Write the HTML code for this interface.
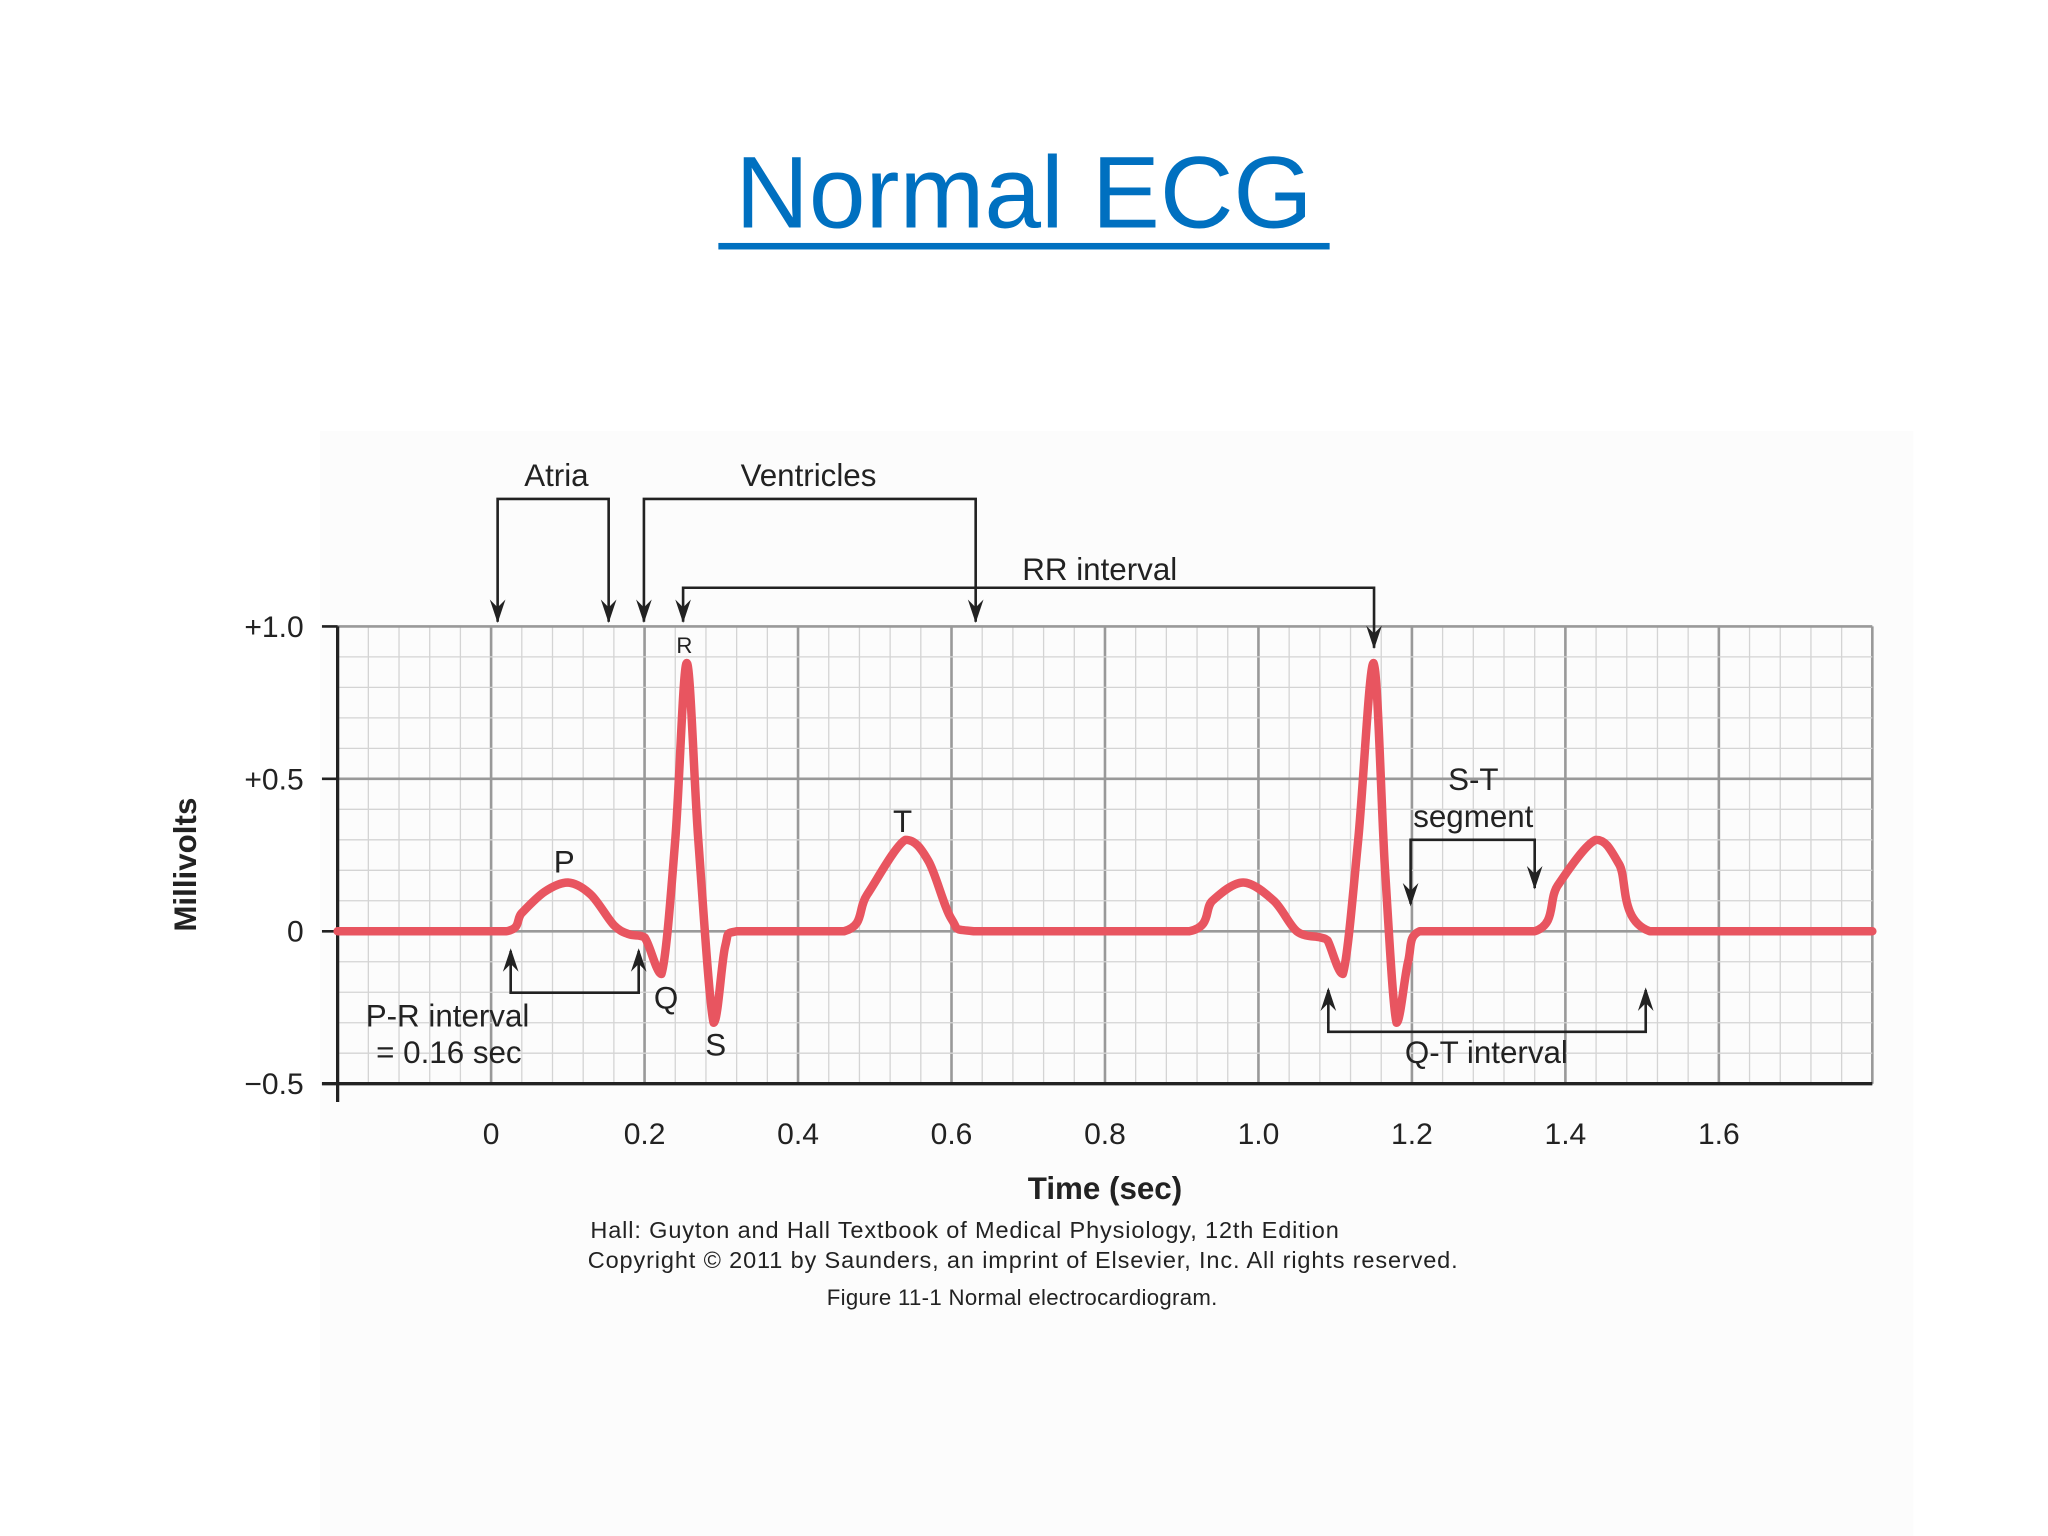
<!DOCTYPE html>
<html><head><meta charset="utf-8"><title>Normal ECG</title>
<style>
html,body{margin:0;padding:0;background:#fff;}
svg{display:block;}
text{font-family:"Liberation Sans",sans-serif;fill:#222;}
</style></head>
<body>
<svg id="chart" width="2048" height="1536" viewBox="0 0 1568 1176" xmlns="http://www.w3.org/2000/svg">
<rect x="0" y="0" width="1568" height="1176" fill="#ffffff"/>
<rect x="245" y="330" width="1220" height="846" fill="#fcfcfc"/>
<text x="784" y="174" text-anchor="middle" font-size="78" style="fill:#0070c0;font-family:'Liberation Sans',sans-serif">Normal ECG</text>
<rect x="550" y="186" width="468" height="5" fill="#0070c0"/>
<g id="grid"></g>
<g id="axes"></g>
<path id="trace" fill="none" stroke="#e85560" stroke-width="6.5" stroke-linejoin="round" stroke-linecap="round"/>
<g id="annot" stroke="#222" stroke-width="2" fill="none"></g>
<g font-size="24">
<text x="426" y="372" text-anchor="middle">Atria</text>
<text x="619" y="372" text-anchor="middle">Ventricles</text>
<text x="842" y="444" text-anchor="middle">RR interval</text>
<text x="432" y="668" text-anchor="middle">P</text>
<text x="691" y="637" text-anchor="middle">T</text>
<text x="524" y="500" text-anchor="middle" font-size="17">R</text>
<text x="510" y="772" text-anchor="middle">Q</text>
<text x="548" y="808" text-anchor="middle">S</text>
<text x="280" y="786">P-R interval</text>
<text x="288" y="814">= 0.16 sec</text>
<text x="1128" y="605" text-anchor="middle">S-T</text>
<text x="1128" y="633" text-anchor="middle">segment</text>
<text x="1138" y="814" text-anchor="middle">Q-T interval</text>
<text x="846" y="918" text-anchor="middle" font-weight="bold">Time (sec)</text>
<text transform="translate(150,662) rotate(-90)" text-anchor="middle" font-weight="bold">Millivolts</text>
</g>
<g font-size="18">
<text x="452" y="948" textLength="573">Hall: Guyton and Hall Textbook of Medical Physiology, 12th Edition</text>
<text x="450" y="971" textLength="666">Copyright © 2011 by Saunders, an imprint of Elsevier, Inc. All rights reserved.</text>
<text x="633" y="999" font-size="17" textLength="299">Figure 11-1 Normal electrocardiogram.</text>
</g>
</svg>
<script>
const xTicks = [0, 0.2, 0.4, 0.6, 0.8, 1.0, 1.2, 1.4, 1.6];
const xTickLabels = ["0", "0.2", "0.4", "0.6", "0.8", "1.0", "1.2", "1.4", "1.6"];
const yTicks = [1.0, 0.5, 0, -0.5];
const yTickLabels = ["+1.0", "+0.5", "0", "\u22120.5"];
const traceT = [-0.2,0.02,0.04,0.07,0.1,0.13,0.16,0.18,0.2,0.222,0.24,0.255,0.27,0.29,0.305,0.32,0.46,0.49,0.54,0.57,0.6,0.63,0.91,0.94,0.98,1.02,1.05,1.08,1.09,1.11,1.13,1.15,1.165,1.18,1.195,1.21,1.36,1.39,1.44,1.47,1.51,1.8];
const traceMv = [0,0,0.06,0.13,0.16,0.12,0.02,-0.01,-0.02,-0.14,0.3,0.88,0.3,-0.3,-0.05,0,0,0.12,0.3,0.23,0.04,0,0,0.1,0.16,0.1,0,-0.02,-0.03,-0.14,0.3,0.88,0.2,-0.3,-0.1,0,0,0.15,0.3,0.22,0,0];
const X0 = 376, XS = 117.5/0.2, Y0 = 713, YS = 116.7/0.5;
const xs = t => X0 + t*XS;
const ys = v => Y0 - v*YS;
const NS = "http://www.w3.org/2000/svg";
function mk(tag, attrs, parent){const e=document.createElementNS(NS,tag);for(const k in attrs)e.setAttribute(k,attrs[k]);parent.appendChild(e);return e;}
const grid = document.getElementById('grid');
const L = xs(-0.2), R = xs(1.8), T = ys(1.0), B = ys(-0.5);
for (let i=0;i<=50;i++){const t=-0.2+i*0.04;const major=i%5===0;
 const ln=mk('line',{x1:xs(t),x2:xs(t),y1:T,y2:B,stroke:major?'#999':'#d4d4d4','stroke-width':major?2:1},grid);
 
 }
for (let i=0;i<=15;i++){const v=-0.5+i*0.1;const major=i%5===0;
 const ln=mk('line',{x1:L,x2:R,y1:ys(v),y2:ys(v),stroke:major?'#999':'#d4d4d4','stroke-width':major?2:1},grid);
 
 }
const axes = document.getElementById('axes');
let a=mk('line',{x1:L,x2:L,y1:T,y2:B+14,stroke:'#222','stroke-width':2.5},axes);


a=mk('line',{x1:L-12,x2:R,y1:B,y2:B,stroke:'#222','stroke-width':2.5},axes);


yTicks.forEach((v,i)=>{const tk=mk('line',{x1:L-12,x2:L,y1:ys(v),y2:ys(v),stroke:'#222','stroke-width':2},axes);
 
 
 const tx=mk('text',{x:L-26,y:ys(v)+8,'text-anchor':'end','font-size':23},axes);tx.textContent=yTickLabels[i];
 
 });
xTicks.forEach((t,i)=>{const tx=mk('text',{x:xs(t),y:876,'text-anchor':'middle','font-size':23},axes);tx.textContent=xTickLabels[i];
 
 });
// trace: catmull-rom smoothing with clamped control points (no overshoot)
const P = traceT.map((t,i)=>[xs(t),ys(traceMv[i])]);
const clamp=(v,a,b)=>Math.min(Math.max(v,Math.min(a,b)),Math.max(a,b));
let d = 'M'+P[0][0]+','+P[0][1];
for (let i=0;i<P.length-1;i++){const p0=P[Math.max(0,i-1)],p1=P[i],p2=P[i+1],p3=P[Math.min(P.length-1,i+2)];
 const k=0.16;
 const c1x=clamp(p1[0]+(p2[0]-p0[0])*k,p1[0],p2[0]), c1y=clamp(p1[1]+(p2[1]-p0[1])*k,p1[1],p2[1]);
 const c2x=clamp(p2[0]-(p3[0]-p1[0])*k,p1[0],p2[0]), c2y=clamp(p2[1]-(p3[1]-p1[1])*k,p1[1],p2[1]);
 d+=' C'+c1x+','+c1y+' '+c2x+','+c2y+' '+p2[0]+','+p2[1];}
document.getElementById('trace').setAttribute('d',d);
// annotations
const an = document.getElementById('annot');
function pl(pts,name){const e=mk('polyline',{points:pts.map(p=>p.join(',')).join(' ')},an);
 
 }
function arrow(x,y,dir,name){const s=dir==='down'?-1:1;const e=mk('polygon',{points:`${x},${y} ${x-6},${y-s*(-18)} ${x},${y-s*(-12)} ${x+6},${y-s*(-18)}`,fill:'#222',stroke:'none'},an);
 
 }
pl([[381,476],[381,382],[466,382],[466,476]],'atria-bracket');
arrow(381,477,'down','atria-arrow-left');arrow(466,477,'down','atria-arrow-right');
pl([[493,476],[493,382],[747,382],[747,476]],'ventricles-bracket');
arrow(493,477,'down','ventricles-arrow-left');arrow(747,477,'down','ventricles-arrow-right');
pl([[523,476],[523,450],[1052,450],[1052,496]],'rr-bracket');
arrow(523,477,'down','rr-arrow-left');arrow(1052,497,'down','rr-arrow-right');
pl([[391,728],[391,760],[489,760],[489,728]],'pr-bracket');
arrow(391,726,'up','pr-arrow-left');arrow(489,726,'up','pr-arrow-right');
pl([[1017,758],[1017,790],[1260,790],[1260,758]],'qt-bracket');
arrow(1017,756,'up','qt-arrow-left');arrow(1260,756,'up','qt-arrow-right');
pl([[1080,692],[1080,643],[1175,643],[1175,680]],'st-bracket');
arrow(1080,694,'down','st-arrow-left');arrow(1175,681,'down','st-arrow-right');
</script>
</body></html>
